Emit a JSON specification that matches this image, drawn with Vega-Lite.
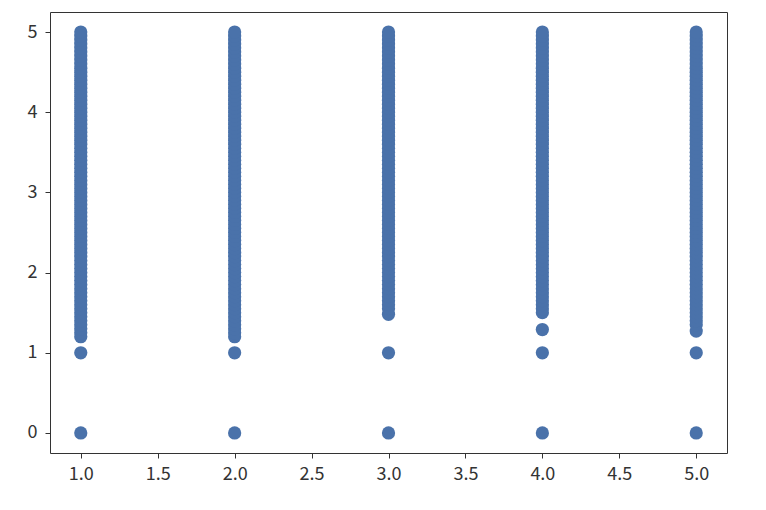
{
"$schema": "https://vega.github.io/schema/vega-lite/v6.json",
"width": 677, "height": 441,
"autosize": {"type": "none"},
"padding": {"left": 50, "top": 12, "right": 39, "bottom": 57},
"background": "white",
"config": {"view": {"stroke": "#333333", "strokeWidth": 1}, "font": "Noto Sans CJK KR"},
"data": {"values": [
{"x":1,"y":0},{"x":1,"y":1},{"x":1,"y":1.2},{"x":1,"y":1.25},{"x":1,"y":1.3},{"x":1,"y":1.35},{"x":1,"y":1.4},{"x":1,"y":1.45},{"x":1,"y":1.5},{"x":1,"y":1.55},{"x":1,"y":1.6},{"x":1,"y":1.65},{"x":1,"y":1.7},{"x":1,"y":1.75},{"x":1,"y":1.8},{"x":1,"y":1.85},{"x":1,"y":1.9},{"x":1,"y":1.95},{"x":1,"y":2},{"x":1,"y":2.05},{"x":1,"y":2.1},{"x":1,"y":2.15},{"x":1,"y":2.2},{"x":1,"y":2.25},{"x":1,"y":2.3},{"x":1,"y":2.35},{"x":1,"y":2.4},{"x":1,"y":2.45},{"x":1,"y":2.5},{"x":1,"y":2.55},{"x":1,"y":2.6},{"x":1,"y":2.65},{"x":1,"y":2.7},{"x":1,"y":2.75},{"x":1,"y":2.8},{"x":1,"y":2.85},{"x":1,"y":2.9},{"x":1,"y":2.95},{"x":1,"y":3},{"x":1,"y":3.05},{"x":1,"y":3.1},{"x":1,"y":3.15},{"x":1,"y":3.2},{"x":1,"y":3.25},{"x":1,"y":3.3},{"x":1,"y":3.35},{"x":1,"y":3.4},{"x":1,"y":3.45},{"x":1,"y":3.5},{"x":1,"y":3.55},{"x":1,"y":3.6},{"x":1,"y":3.65},{"x":1,"y":3.7},{"x":1,"y":3.75},{"x":1,"y":3.8},{"x":1,"y":3.85},{"x":1,"y":3.9},{"x":1,"y":3.95},{"x":1,"y":4},{"x":1,"y":4.05},{"x":1,"y":4.1},{"x":1,"y":4.15},{"x":1,"y":4.2},{"x":1,"y":4.25},{"x":1,"y":4.3},{"x":1,"y":4.35},{"x":1,"y":4.4},{"x":1,"y":4.45},{"x":1,"y":4.5},{"x":1,"y":4.55},{"x":1,"y":4.6},{"x":1,"y":4.65},{"x":1,"y":4.7},{"x":1,"y":4.75},{"x":1,"y":4.8},{"x":1,"y":4.85},{"x":1,"y":4.9},{"x":1,"y":4.95},{"x":1,"y":5},
{"x":2,"y":0},{"x":2,"y":1},{"x":2,"y":1.2},{"x":2,"y":1.25},{"x":2,"y":1.3},{"x":2,"y":1.35},{"x":2,"y":1.4},{"x":2,"y":1.45},{"x":2,"y":1.5},{"x":2,"y":1.55},{"x":2,"y":1.6},{"x":2,"y":1.65},{"x":2,"y":1.7},{"x":2,"y":1.75},{"x":2,"y":1.8},{"x":2,"y":1.85},{"x":2,"y":1.9},{"x":2,"y":1.95},{"x":2,"y":2},{"x":2,"y":2.05},{"x":2,"y":2.1},{"x":2,"y":2.15},{"x":2,"y":2.2},{"x":2,"y":2.25},{"x":2,"y":2.3},{"x":2,"y":2.35},{"x":2,"y":2.4},{"x":2,"y":2.45},{"x":2,"y":2.5},{"x":2,"y":2.55},{"x":2,"y":2.6},{"x":2,"y":2.65},{"x":2,"y":2.7},{"x":2,"y":2.75},{"x":2,"y":2.8},{"x":2,"y":2.85},{"x":2,"y":2.9},{"x":2,"y":2.95},{"x":2,"y":3},{"x":2,"y":3.05},{"x":2,"y":3.1},{"x":2,"y":3.15},{"x":2,"y":3.2},{"x":2,"y":3.25},{"x":2,"y":3.3},{"x":2,"y":3.35},{"x":2,"y":3.4},{"x":2,"y":3.45},{"x":2,"y":3.5},{"x":2,"y":3.55},{"x":2,"y":3.6},{"x":2,"y":3.65},{"x":2,"y":3.7},{"x":2,"y":3.75},{"x":2,"y":3.8},{"x":2,"y":3.85},{"x":2,"y":3.9},{"x":2,"y":3.95},{"x":2,"y":4},{"x":2,"y":4.05},{"x":2,"y":4.1},{"x":2,"y":4.15},{"x":2,"y":4.2},{"x":2,"y":4.25},{"x":2,"y":4.3},{"x":2,"y":4.35},{"x":2,"y":4.4},{"x":2,"y":4.45},{"x":2,"y":4.5},{"x":2,"y":4.55},{"x":2,"y":4.6},{"x":2,"y":4.65},{"x":2,"y":4.7},{"x":2,"y":4.75},{"x":2,"y":4.8},{"x":2,"y":4.85},{"x":2,"y":4.9},{"x":2,"y":4.95},{"x":2,"y":5},
{"x":3,"y":0},{"x":3,"y":1},{"x":3,"y":1.48},{"x":3,"y":1.55},{"x":3,"y":1.6},{"x":3,"y":1.65},{"x":3,"y":1.7},{"x":3,"y":1.75},{"x":3,"y":1.8},{"x":3,"y":1.85},{"x":3,"y":1.9},{"x":3,"y":1.95},{"x":3,"y":2},{"x":3,"y":2.05},{"x":3,"y":2.1},{"x":3,"y":2.15},{"x":3,"y":2.2},{"x":3,"y":2.25},{"x":3,"y":2.3},{"x":3,"y":2.35},{"x":3,"y":2.4},{"x":3,"y":2.45},{"x":3,"y":2.5},{"x":3,"y":2.55},{"x":3,"y":2.6},{"x":3,"y":2.65},{"x":3,"y":2.7},{"x":3,"y":2.75},{"x":3,"y":2.8},{"x":3,"y":2.85},{"x":3,"y":2.9},{"x":3,"y":2.95},{"x":3,"y":3},{"x":3,"y":3.05},{"x":3,"y":3.1},{"x":3,"y":3.15},{"x":3,"y":3.2},{"x":3,"y":3.25},{"x":3,"y":3.3},{"x":3,"y":3.35},{"x":3,"y":3.4},{"x":3,"y":3.45},{"x":3,"y":3.5},{"x":3,"y":3.55},{"x":3,"y":3.6},{"x":3,"y":3.65},{"x":3,"y":3.7},{"x":3,"y":3.75},{"x":3,"y":3.8},{"x":3,"y":3.85},{"x":3,"y":3.9},{"x":3,"y":3.95},{"x":3,"y":4},{"x":3,"y":4.05},{"x":3,"y":4.1},{"x":3,"y":4.15},{"x":3,"y":4.2},{"x":3,"y":4.25},{"x":3,"y":4.3},{"x":3,"y":4.35},{"x":3,"y":4.4},{"x":3,"y":4.45},{"x":3,"y":4.5},{"x":3,"y":4.55},{"x":3,"y":4.6},{"x":3,"y":4.65},{"x":3,"y":4.7},{"x":3,"y":4.75},{"x":3,"y":4.8},{"x":3,"y":4.85},{"x":3,"y":4.9},{"x":3,"y":4.95},{"x":3,"y":5},
{"x":4,"y":0},{"x":4,"y":1},{"x":4,"y":1.29},{"x":4,"y":1.5},{"x":4,"y":1.55},{"x":4,"y":1.6},{"x":4,"y":1.65},{"x":4,"y":1.7},{"x":4,"y":1.75},{"x":4,"y":1.8},{"x":4,"y":1.85},{"x":4,"y":1.9},{"x":4,"y":1.95},{"x":4,"y":2},{"x":4,"y":2.05},{"x":4,"y":2.1},{"x":4,"y":2.15},{"x":4,"y":2.2},{"x":4,"y":2.25},{"x":4,"y":2.3},{"x":4,"y":2.35},{"x":4,"y":2.4},{"x":4,"y":2.45},{"x":4,"y":2.5},{"x":4,"y":2.55},{"x":4,"y":2.6},{"x":4,"y":2.65},{"x":4,"y":2.7},{"x":4,"y":2.75},{"x":4,"y":2.8},{"x":4,"y":2.85},{"x":4,"y":2.9},{"x":4,"y":2.95},{"x":4,"y":3},{"x":4,"y":3.05},{"x":4,"y":3.1},{"x":4,"y":3.15},{"x":4,"y":3.2},{"x":4,"y":3.25},{"x":4,"y":3.3},{"x":4,"y":3.35},{"x":4,"y":3.4},{"x":4,"y":3.45},{"x":4,"y":3.5},{"x":4,"y":3.55},{"x":4,"y":3.6},{"x":4,"y":3.65},{"x":4,"y":3.7},{"x":4,"y":3.75},{"x":4,"y":3.8},{"x":4,"y":3.85},{"x":4,"y":3.9},{"x":4,"y":3.95},{"x":4,"y":4},{"x":4,"y":4.05},{"x":4,"y":4.1},{"x":4,"y":4.15},{"x":4,"y":4.2},{"x":4,"y":4.25},{"x":4,"y":4.3},{"x":4,"y":4.35},{"x":4,"y":4.4},{"x":4,"y":4.45},{"x":4,"y":4.5},{"x":4,"y":4.55},{"x":4,"y":4.6},{"x":4,"y":4.65},{"x":4,"y":4.7},{"x":4,"y":4.75},{"x":4,"y":4.8},{"x":4,"y":4.85},{"x":4,"y":4.9},{"x":4,"y":4.95},{"x":4,"y":5},
{"x":5,"y":0},{"x":5,"y":1},{"x":5,"y":1.27},{"x":5,"y":1.35},{"x":5,"y":1.4},{"x":5,"y":1.45},{"x":5,"y":1.5},{"x":5,"y":1.55},{"x":5,"y":1.6},{"x":5,"y":1.65},{"x":5,"y":1.7},{"x":5,"y":1.75},{"x":5,"y":1.8},{"x":5,"y":1.85},{"x":5,"y":1.9},{"x":5,"y":1.95},{"x":5,"y":2},{"x":5,"y":2.05},{"x":5,"y":2.1},{"x":5,"y":2.15},{"x":5,"y":2.2},{"x":5,"y":2.25},{"x":5,"y":2.3},{"x":5,"y":2.35},{"x":5,"y":2.4},{"x":5,"y":2.45},{"x":5,"y":2.5},{"x":5,"y":2.55},{"x":5,"y":2.6},{"x":5,"y":2.65},{"x":5,"y":2.7},{"x":5,"y":2.75},{"x":5,"y":2.8},{"x":5,"y":2.85},{"x":5,"y":2.9},{"x":5,"y":2.95},{"x":5,"y":3},{"x":5,"y":3.05},{"x":5,"y":3.1},{"x":5,"y":3.15},{"x":5,"y":3.2},{"x":5,"y":3.25},{"x":5,"y":3.3},{"x":5,"y":3.35},{"x":5,"y":3.4},{"x":5,"y":3.45},{"x":5,"y":3.5},{"x":5,"y":3.55},{"x":5,"y":3.6},{"x":5,"y":3.65},{"x":5,"y":3.7},{"x":5,"y":3.75},{"x":5,"y":3.8},{"x":5,"y":3.85},{"x":5,"y":3.9},{"x":5,"y":3.95},{"x":5,"y":4},{"x":5,"y":4.05},{"x":5,"y":4.1},{"x":5,"y":4.15},{"x":5,"y":4.2},{"x":5,"y":4.25},{"x":5,"y":4.3},{"x":5,"y":4.35},{"x":5,"y":4.4},{"x":5,"y":4.45},{"x":5,"y":4.5},{"x":5,"y":4.55},{"x":5,"y":4.6},{"x":5,"y":4.65},{"x":5,"y":4.7},{"x":5,"y":4.75},{"x":5,"y":4.8},{"x":5,"y":4.85},{"x":5,"y":4.9},{"x":5,"y":4.95},{"x":5,"y":5}
]},
"mark": {"type": "circle", "size": 175, "opacity": 1, "color": "#4A72AA"},
"encoding": {
"x": {"field": "x", "type": "quantitative", "scale": {"domain": [0.8, 5.2], "nice": false, "zero": false},
"axis": {"title": null, "grid": false, "domain": false, "values": [1,1.5,2,2.5,3,3.5,4,4.5,5], "format": ".1f", "tickSize": 5, "tickColor": "#333333", "labelColor": "#333333", "labelFontSize": 18, "labelPadding": 7}},
"y": {"field": "y", "type": "quantitative", "scale": {"domain": [-0.25, 5.25], "nice": false, "zero": false},
"axis": {"title": null, "grid": false, "domain": false, "values": [0,1,2,3,4,5], "format": "d", "tickSize": 5, "tickColor": "#333333", "labelColor": "#333333", "labelFontSize": 18, "labelPadding": 8}}
}
}
